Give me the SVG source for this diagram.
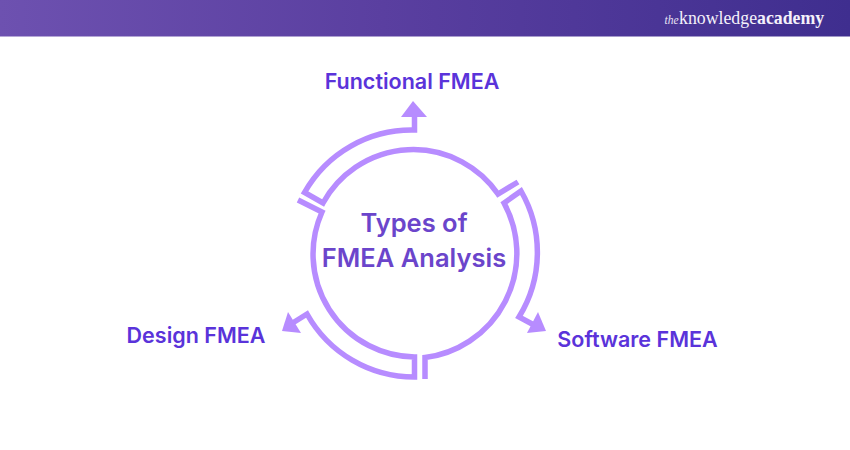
<svg xmlns="http://www.w3.org/2000/svg" width="850" height="450" viewBox="0 0 850 450">
<style>
.ring{fill:none;stroke:#b78cff;stroke-width:5.500;stroke-linejoin:miter}
.head{fill:#b78cff}
.lbl{font-family:Inter,"Liberation Sans",sans-serif;font-weight:600;font-size:21.500px;fill:#5a33da;text-anchor:middle}
.ttl{font-family:Inter,"Liberation Sans",sans-serif;font-weight:600;font-size:25.500px;fill:#6b45cb;text-anchor:middle}
</style>
<defs>
<linearGradient id="hdr" x1="0" x2="1" y1="0" y2="0">
<stop offset="0" stop-color="#6d51b0"/><stop offset="0.45" stop-color="#5a3fa0"/><stop offset="1" stop-color="#3f2e8f"/>
</linearGradient>
</defs>
<rect width="850" height="450" fill="#ffffff"/>
<g id="header">
<rect width="850" height="36.500" fill="url(#hdr)"/>
<text x="664.500" y="24" font-family="Liberation Serif,serif" font-style="italic" font-size="11.500" fill="#e8e2f4">the</text>
<text x="679" y="24" font-family="Liberation Serif,serif" font-size="17.800" fill="#f4f1fa">knowledge<tspan font-weight="700">academy</tspan></text>
</g>
<g id="connectors">
<path class="ring" d="M518 182 L498 194 A103 103 0 0 0 323 203 L304.500 192.500 A123 123 0 0 1 414.500 130 L414.500 112"/>
<path class="ring" d="M425 379 L425 357.500 A105 105 0 0 0 504 203 L521 191 A123 123 0 0 1 519 317 L534 325"/>
<path class="ring" d="M298 200 L322 212 A103 103 0 0 0 414.500 357 L414.500 377 A123 123 0 0 1 307 314 L291 324"/>
<polygon class="head" points="413,101 427,117 401,117"/>
<polygon class="head" points="546,331 538,312 527,333"/>
<polygon class="head" points="282,331 288,312 301,333"/>
</g>
<g id="center"><text class="ttl" x="414" y="232">Types of</text><text class="ttl" x="414" y="267">FMEA Analysis</text></g>
<g id="functional"><text class="lbl" x="412" y="89">Functional FMEA</text></g>
<g id="software"><text class="lbl" x="637.500" y="347">Software FMEA</text></g>
<g id="design"><text class="lbl" x="196" y="343">Design FMEA</text></g>
</svg>
